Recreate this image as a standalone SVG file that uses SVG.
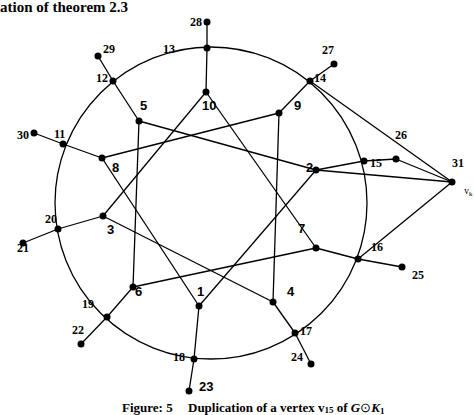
<svg xmlns="http://www.w3.org/2000/svg" width="474" height="415" viewBox="0 0 474 415">
<style>
.e{stroke:#000;stroke-width:1.3;fill:none}
.d{fill:#000}
.o{font-family:"Liberation Serif",serif;font-weight:bold;font-size:12px;fill:#000}
.i{font-family:"Liberation Sans",sans-serif;font-weight:bold;font-size:13px;fill:#000}
.t{font-family:"Liberation Serif",serif;font-weight:bold;fill:#000}
</style>
<rect width="474" height="415" fill="#fff"/>
<text class="t" x="0" y="11.5" font-size="15">ation of theorem 2.3</text>
<circle class="e" cx="211" cy="203" r="156"/>
<g id="connectors" class="e">
<line x1="207" y1="22" x2="207" y2="48"/>
<line x1="207" y1="48" x2="206" y2="92"/>
<line x1="98" y1="56" x2="113" y2="81"/>
<line x1="113" y1="81" x2="139" y2="121"/>
<line x1="334" y1="64" x2="310" y2="81"/>
<line x1="310" y1="81" x2="279" y2="113"/>
<line x1="310" y1="81" x2="452" y2="182"/>
<line x1="279" y1="113" x2="102" y2="158"/>
<line x1="279" y1="113" x2="273" y2="302"/>
<line x1="206" y1="92" x2="103" y2="216"/>
<line x1="206" y1="92" x2="316" y2="248"/>
<line x1="139" y1="121" x2="316" y2="170"/>
<line x1="139" y1="121" x2="133" y2="287"/>
<line x1="316" y1="170" x2="452" y2="182"/>
<line x1="316" y1="170" x2="364" y2="161"/>
<line x1="364" y1="161" x2="396" y2="159"/>
<line x1="396" y1="159" x2="452" y2="182"/>
<line x1="316" y1="170" x2="199" y2="306"/>
<line x1="452" y1="182" x2="358" y2="259"/>
<line x1="316" y1="248" x2="358" y2="259"/>
<line x1="358" y1="259" x2="402" y2="267"/>
<line x1="316" y1="248" x2="133" y2="287"/>
<line x1="102" y1="158" x2="63" y2="144"/>
<line x1="63" y1="144" x2="34" y2="133"/>
<line x1="102" y1="158" x2="199" y2="306"/>
<line x1="103" y1="216" x2="58" y2="229"/>
<line x1="58" y1="229" x2="23" y2="243"/>
<line x1="103" y1="216" x2="273" y2="302"/>
<line x1="133" y1="287" x2="107" y2="317"/>
<line x1="107" y1="317" x2="81" y2="344"/>
<line x1="199" y1="306" x2="194" y2="359"/>
<line x1="194" y1="359" x2="189" y2="391"/>
<line x1="273" y1="302" x2="295" y2="333"/>
<line x1="295" y1="333" x2="311" y2="364"/>
</g>
<g id="n1"><circle class="d" cx="199" cy="306" r="3.5"/><text class="i" x="197" y="296">1</text></g>
<g id="n2"><circle class="d" cx="316" cy="170" r="3.5"/><text class="i" x="306" y="172">2</text></g>
<g id="n3"><circle class="d" cx="103" cy="216" r="3.5"/><text class="i" x="107" y="234">3</text></g>
<g id="n4"><circle class="d" cx="273" cy="302" r="3.5"/><text class="i" x="287" y="296">4</text></g>
<g id="n5"><circle class="d" cx="139" cy="121" r="3.5"/><text class="i" x="140" y="110">5</text></g>
<g id="n6"><circle class="d" cx="133" cy="287" r="3.5"/><text class="i" x="135" y="296">6</text></g>
<g id="n7"><circle class="d" cx="316" cy="248" r="3.5"/><text class="i" x="298" y="233">7</text></g>
<g id="n8"><circle class="d" cx="102" cy="158" r="3.5"/><text class="i" x="112" y="172">8</text></g>
<g id="n9"><circle class="d" cx="279" cy="113" r="3.5"/><text class="i" x="294" y="110">9</text></g>
<g id="n10"><circle class="d" cx="206" cy="92" r="3.5"/><text class="i" x="202" y="110">10</text></g>
<g id="n11"><circle class="d" cx="63" cy="144" r="3.5"/><text class="o" x="54" y="138">11</text></g>
<g id="n12"><circle class="d" cx="113" cy="81" r="3.5"/><text class="o" x="96" y="82">12</text></g>
<g id="n13"><circle class="d" cx="207" cy="48" r="3.5"/><text class="o" x="163" y="53">13</text></g>
<g id="n14"><circle class="d" cx="310" cy="81" r="3.5"/><text class="o" x="314" y="82">14</text></g>
<g id="n15"><circle class="d" cx="364" cy="161" r="3.5"/><text class="o" x="370" y="167">15</text></g>
<g id="n15b"><circle class="d" cx="396" cy="159" r="3.5"/></g>
<g id="n16"><circle class="d" cx="358" cy="259" r="3.5"/><text class="o" x="371" y="251">16</text></g>
<g id="n17"><circle class="d" cx="295" cy="333" r="3.5"/><text class="o" x="300" y="335">17</text></g>
<g id="n18"><circle class="d" cx="194" cy="359" r="3.5"/><text class="o" x="173" y="361">18</text></g>
<g id="n19"><circle class="d" cx="107" cy="317" r="3.5"/><text class="o" x="82" y="308">19</text></g>
<g id="n20"><circle class="d" cx="58" cy="229" r="3.5"/><text class="o" x="45" y="223">20</text></g>
<g id="n21"><circle class="d" cx="23" cy="243" r="3.5"/><text class="o" x="17" y="252">21</text></g>
<g id="n22"><circle class="d" cx="81" cy="344" r="3.5"/><text class="o" x="72" y="334">22</text></g>
<g id="n23"><circle class="d" cx="189" cy="391" r="3.5"/><text class="i" x="199" y="391" font-size="15">23</text></g>
<g id="n24"><circle class="d" cx="311" cy="364" r="3.5"/><text class="o" x="291" y="361">24</text></g>
<g id="n25"><circle class="d" cx="402" cy="267" r="3.5"/><text class="o" x="412" y="279">25</text></g>
<g id="n26"><text class="o" x="395" y="139">26</text></g>
<g id="n27"><circle class="d" cx="334" cy="64" r="3.5"/><text class="o" x="322" y="54">27</text></g>
<g id="n28"><circle class="d" cx="207" cy="22" r="3.5"/><text class="o" x="190" y="26">28</text></g>
<g id="n29"><circle class="d" cx="98" cy="56" r="3.5"/><text class="o" x="103" y="53">29</text></g>
<g id="n30"><circle class="d" cx="34" cy="133" r="3.5"/><text class="o" x="17" y="139">30</text></g>
<g id="n31"><circle class="d" cx="452" cy="182" r="3.5"/><text class="o" x="452" y="167">31</text><text x="464" y="194" font-family="Liberation Serif,serif" font-size="10" fill="#000">v<tspan font-size="7" dy="2">k</tspan></text></g>
<text class="t" x="122" y="412" font-size="13">Figure: 5</text>
<text class="t" x="188" y="412" font-size="13">Duplication of a vertex v<tspan font-size="9" dy="1">15</tspan><tspan dy="-1"> of </tspan><tspan font-style="italic">G</tspan><tspan font-weight="normal">⊙</tspan><tspan font-style="italic">K</tspan><tspan font-size="9" dy="2">1</tspan></text>
</svg>
